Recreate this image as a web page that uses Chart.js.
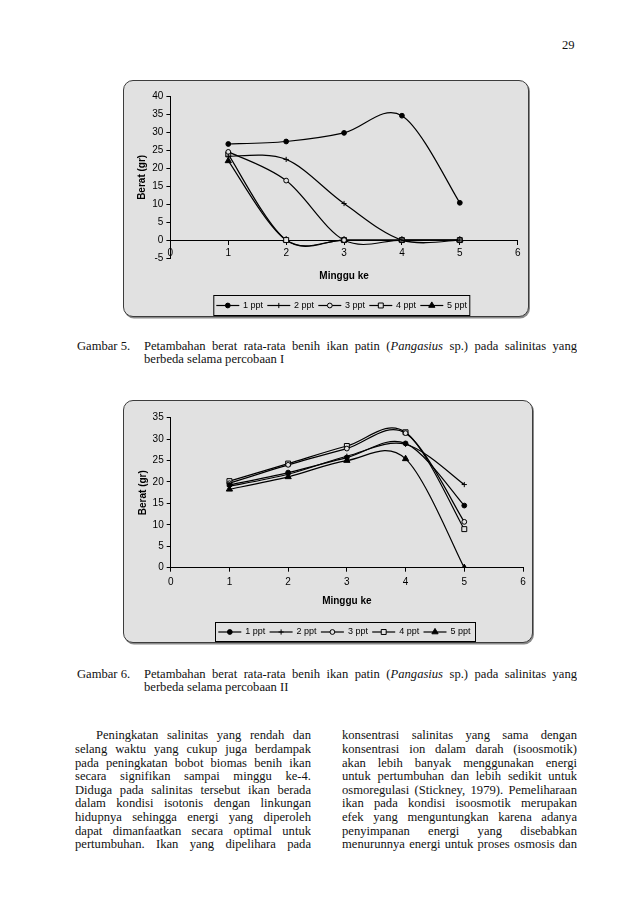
<!DOCTYPE html>
<html>
<head>
<meta charset="utf-8">
<script src="https://cdn.jsdelivr.net/npm/chart.js@4.4.1/dist/chart.umd.min.js"></script>
<style>
  body { margin: 0; background: #fff; }
  #page { position: relative; width: 638px; height: 902px; font-family: "Liberation Serif", "Times New Roman", serif; font-size: 12.6px; color: #111; }
  .ln { position: absolute; line-height: 14px; height: 14px; white-space: nowrap; }
  .jl { text-align: justify; text-align-last: justify; white-space: normal; overflow: hidden; }
  .box { position: absolute; background: #e1e1e1; border: 1.5px solid #3c3c3c; border-radius: 10px; box-sizing: border-box; box-shadow: 1px 1.5px 0 #8a8a8a; }
  canvas { position: absolute; }
</style>
</head>
<body>
<div id="page">
  <div class="ln" style="left:562px;top:38px;">29</div>

  <div class="box" style="left:123px;top:80px;width:406px;height:237px;"></div>
  <canvas id="chart1" width="406" height="237" style="left:123px;top:80px;"></canvas>

  <div class="ln" style="left:77px;top:339px;">Gambar 5.</div>
  <div class="ln jl" style="left:144px;top:339px;width:433px;">Petambahan berat rata-rata benih ikan patin (<i>Pangasius</i> sp.) pada salinitas yang</div>
  <div class="ln" style="left:144px;top:352px;">berbeda selama percobaan I</div>

  <div class="box" style="left:123px;top:400px;width:410px;height:243px;"></div>
  <canvas id="chart2" width="410" height="243" style="left:123px;top:400px;"></canvas>

  <div class="ln" style="left:77px;top:667px;">Gambar 6.</div>
  <div class="ln jl" style="left:144px;top:667px;width:433px;">Petambahan berat rata-rata benih ikan patin (<i>Pangasius</i> sp.) pada salinitas yang</div>
  <div class="ln" style="left:144px;top:680px;">berbeda selama percobaan II</div>
</div>

<script>
"use strict";

// minggu ke (x)
const weeks = [1, 2, 3, 4, 5];
const seriesLabels = ["1 ppt", "2 ppt", "3 ppt", "4 ppt", "5 ppt"];

// percobaan I - berat (gr)
const trial1Ppt1 = [26.8, 27.5, 29.9, 34.7, 10.4];
const trial1Ppt2 = [23.4, 22.5, 10.2, 0, 0];
const trial1Ppt3 = [24.6, 16.6, 0, 0, 0];
const trial1Ppt4 = [23.9, 0, 0, 0, 0];
const trial1Ppt5 = [22.1, 0, 0, 0, 0];

// percobaan II - berat (gr)
const trial2Ppt1 = [19.3, 22.2, 25.7, 29.0, 14.5];
const trial2Ppt2 = [19.0, 21.8, 26.0, 28.8, 19.4];
const trial2Ppt3 = [19.7, 24.0, 27.8, 31.4, 10.7];
const trial2Ppt4 = [20.2, 24.3, 28.4, 31.6, 9.0];
const trial2Ppt5 = [18.3, 21.2, 25.0, 25.4, 0];

const textLeft = [
  "Peningkatan salinitas yang rendah dan",
  "selang waktu yang cukup juga berdampak",
  "pada peningkatan bobot biomas benih ikan",
  "secara signifikan sampai minggu ke-4.",
  "Diduga pada salinitas tersebut ikan berada",
  "dalam kondisi isotonis dengan linkungan",
  "hidupnya  sehingga energi yang diperoleh",
  "dapat dimanfaatkan secara optimal untuk",
  "pertumbuhan. Ikan yang dipelihara pada",
];
const textRight = [
  "konsentrasi salinitas yang sama dengan",
  "konsentrasi ion dalam darah (isoosmotik)",
  "akan lebih banyak menggunakan energi",
  "untuk pertumbuhan dan lebih sedikit untuk",
  "osmoregulasi (Stickney, 1979). Pemeliharaan",
  "ikan pada kondisi isoosmotik merupakan",
  "efek yang menguntungkan karena adanya",
  "penyimpanan energi yang disebabkan",
  "menurunnya energi untuk proses osmosis dan",
];

const page = document.getElementById("page");
const addLines = (lines, left, right, indent) => {
  lines.forEach((t, i) => {
    const d = document.createElement("div");
    d.className = "ln jl";
    const x = i === 0 ? left + indent : left;
    d.style.left = x + "px";
    d.style.width = (right - x) + "px";
    d.style.top = (728.3 + i * 13.6) + "px";
    d.textContent = t;
    page.appendChild(d);
  });
};
addLines(textLeft, 75, 311, 21);
addLines(textRight, 342, 577, 0);

Chart.defaults.font.family = "'Liberation Sans', Arial, sans-serif";
Chart.defaults.font.size = 10;
Chart.defaults.color = "#000";

const markerBg = "#e1e1e1";
const styles = [
  { pointStyle: "circle", pointRadius: 2.4, pointBackgroundColor: "#000" },
  { pointStyle: "cross", pointRadius: 2.6, pointBackgroundColor: "#000" },
  { pointStyle: "circle", pointRadius: 2.4, pointBackgroundColor: markerBg },
  { pointStyle: "rect", pointRadius: 3.5, pointBackgroundColor: markerBg },
  { pointStyle: "triangle", pointRadius: 3.6, pointBackgroundColor: "#000" },
];

const makeDatasets = (series) =>
  series.map((values, i) => ({
    label: seriesLabels[i],
    data: weeks.map((w, j) => ({ x: w, y: values[j] })),
    borderColor: "#000",
    borderWidth: 1.2,
    pointBorderColor: "#000",
    pointBorderWidth: 1,
    tension: 0.3,
    fill: false,
    ...styles[i],
  }));

// excel style smoothing (catmull-rom control points)
const excelSmooth = {
  id: "excelSmooth",
  beforeDatasetsDraw(chart) {
    chart.getSortedVisibleDatasetMetas().forEach((meta) => {
      const pts = meta.data;
      meta.dataset.updateControlPoints(chart.chartArea, "x");
      for (let i = 0; i < pts.length; i++) {
        const prev = pts[Math.max(i - 1, 0)];
        const next = pts[Math.min(i + 1, pts.length - 1)];
        const dx = (next.x - prev.x) / 6;
        const dy = (next.y - prev.y) / 6;
        pts[i].cp1x = pts[i].x - dx;
        pts[i].cp1y = pts[i].y - dy;
        pts[i].cp2x = pts[i].x + dx;
        pts[i].cp2y = pts[i].y + dy;
      }
    });
  },
};

const boxLegend = {
  id: "boxLegend",
  afterDraw(chart, args, opts) {
    const ctx = chart.ctx;
    ctx.save();
    ctx.strokeStyle = "#000";
    ctx.lineWidth = 1;
    ctx.strokeRect(opts.left + 0.5, opts.top + 0.5, opts.width, opts.height);
    ctx.font = "9px 'Liberation Sans', Arial, sans-serif";
    ctx.textBaseline = "middle";
    const cy = opts.top + opts.height / 2 + 0.5;
    chart.data.datasets.forEach((ds, i) => {
      const x0 = opts.left + opts.firstX + i * opts.step;
      ctx.lineWidth = 1.2;
      ctx.beginPath();
      ctx.moveTo(x0, cy);
      ctx.lineTo(x0 + 23, cy);
      ctx.stroke();
      ctx.lineWidth = 1;
      ctx.fillStyle = ds.pointBackgroundColor;
      Chart.helpers.drawPoint(ctx, { pointStyle: ds.pointStyle, radius: ds.pointRadius, borderWidth: 1, rotation: 0 }, x0 + 11.5, cy);
      ctx.fillStyle = "#000";
      ctx.fillText(ds.label, x0 + opts.textX, cy);
    });
    ctx.restore();
  },
};

const axisBase = {
  grid: { drawOnChartArea: false, tickLength: 4, color: "#000" },
  border: { color: "#000", width: 1 },
};
const axisTitle = (text) => ({ display: true, text, font: { size: 10, weight: "bold" }, color: "#000", padding: 0 });

const chart1 = new Chart(document.getElementById("chart1"), {
  type: "line",
  data: { datasets: makeDatasets([trial1Ppt1, trial1Ppt2, trial1Ppt3, trial1Ppt4, trial1Ppt5]) },
  plugins: [excelSmooth, boxLegend],
  options: {
    responsive: false,
    animation: false,
    devicePixelRatio: 1,
    layout: { padding: { left: 13.7, right: 11.3, top: 16.7, bottom: 59 } },
    plugins: {
      legend: { display: false },
      tooltip: { enabled: false },
      boxLegend: { left: 90.3, top: 215, width: 256, height: 20, firstX: 3, step: 51, textX: 26.7 },
    },
    scales: {
      x: {
        ...axisBase,
        type: "linear",
        min: 0,
        max: 6,
        position: { y: 0 },
        ticks: { stepSize: 1, color: "#000", padding: 3 },
        title: axisTitle("Minggu ke"),
        afterFit: (s) => { s.height = 41.7; },
      },
      y: {
        ...axisBase,
        min: -5,
        max: 40,
        ticks: { stepSize: 5, color: "#000", padding: 3 },
        title: axisTitle("Berat (gr)"),
        afterFit: (s) => { s.width = 33.7; },
      },
    },
  },
});

const chart2 = new Chart(document.getElementById("chart2"), {
  type: "line",
  data: { datasets: makeDatasets([trial2Ppt1, trial2Ppt2, trial2Ppt3, trial2Ppt4, trial2Ppt5]) },
  plugins: [excelSmooth, boxLegend],
  options: {
    responsive: false,
    animation: false,
    devicePixelRatio: 1,
    layout: { padding: { left: 14, right: 10, top: 17.7, bottom: 36 } },
    plugins: {
      legend: { display: false },
      tooltip: { enabled: false },
      boxLegend: { left: 92, top: 222, width: 260, height: 19, firstX: 3.3, step: 51.3, textX: 27 },
    },
    scales: {
      x: {
        ...axisBase,
        type: "linear",
        min: 0,
        max: 6,
        ticks: { stepSize: 1, color: "#000", padding: 5 },
        title: axisTitle("Minggu ke"),
        afterFit: (s) => { s.height = 39.3; },
      },
      y: {
        ...axisBase,
        min: 0,
        max: 35,
        ticks: { stepSize: 5, color: "#000", padding: 3 },
        title: axisTitle("Berat (gr)"),
        afterFit: (s) => { s.width = 33.7; },
      },
    },
  },
});
</script>
</body>
</html>
